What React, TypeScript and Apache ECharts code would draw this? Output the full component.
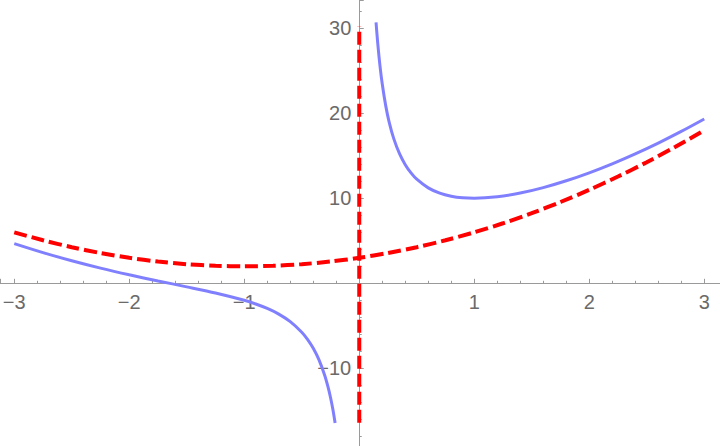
import React, { useEffect, useRef } from "react";
import * as echarts from "echarts";

// Blue curve, left branch (x < 0)
const blueLeftX = [-3, -2.75, -2.5, -2.25, -2, -1.75, -1.5, -1.25, -1, -0.9, -0.8, -0.7, -0.6, -0.5, -0.45, -0.4, -0.35, -0.3, -0.27, -0.25, -0.23, -0.21];
const blueLeftY = [4.667, 3.608, 2.65, 1.785, 1.0, 0.277, -0.417, -1.138, -2.0, -2.434, -2.96, -3.624, -4.507, -5.75, -6.586, -7.64, -9.006, -10.843, -12.282, -13.438, -14.798, -16.424];

// Blue curve, right branch (x > 0)
const blueRightX = [0.146, 0.16, 0.18, 0.2, 0.23, 0.26, 0.3, 0.35, 0.4, 0.45, 0.5, 0.6, 0.7, 0.8, 0.9, 1.0, 1.2, 1.4, 1.6, 1.8, 2.0, 2.2, 2.4, 2.6, 2.8, 3.0];
const blueRightY = [30.71, 28.346, 25.615, 23.44, 20.904, 18.972, 17.023, 15.251, 13.96, 12.991, 12.25, 11.227, 10.604, 10.24, 10.054, 10.0, 10.173, 10.617, 11.26, 12.062, 13.0, 14.058, 15.227, 16.498, 17.869, 19.333];

// Red dashed parabola
const redX = [-3, -2.75, -2.5, -2.25, -2, -1.75, -1.5, -1.25, -1, -0.75, -0.5, -0.25, 0, 0.25, 0.5, 0.75, 1, 1.25, 1.5, 1.75, 2, 2.25, 2.5, 2.75, 3];
const redY = [6, 5.0625, 4.25, 3.5625, 3, 2.5625, 2.25, 2.0625, 2, 2.0625, 2.25, 2.5625, 3, 3.5625, 4.25, 5.0625, 6, 7.0625, 8.25, 9.5625, 11, 12.5625, 14.25, 16.0625, 18];

// Red dashed vertical asymptote
const asymX = [0, 0];
const asymY = [-16.4, 30.2];

// Axis extents
const xRange = [-3.124, 3.137];
const yRange = [-19.14, 33.33];

const W = 720;
const H = 446;

const zip = (xs: number[], ys: number[]) => xs.map((x, i) => [x, ys[i]]);

const fmt = (v: number) => {
  if (v === 0 || Math.abs(v - Math.round(v)) > 1e-9) return "";
  return v < 0 ? "\u2212" + Math.abs(v) : String(v);
};

export default function App() {
  const ref = useRef<HTMLDivElement>(null);
  useEffect(() => {
    if (!ref.current) return;
    const chart = echarts.init(ref.current, undefined, { renderer: "svg" });
    const axisColor = "#9a9a9a";
    const labelStyle = {
      color: "#6a6a6a",
      fontSize: 20,
      fontFamily: "'Liberation Sans', Arial, sans-serif",
    };
    // place axes through the origin
    const xAxisOffset = -(H * (0 - yRange[0])) / (yRange[1] - yRange[0]);
    const yAxisOffset = -(W * (0 - xRange[0])) / (xRange[1] - xRange[0]);
    chart.setOption({
      animation: false,
      backgroundColor: "#ffffff",
      grid: { left: 0, right: 0, top: 0, bottom: 0, containLabel: false, outerBoundsMode: "none" },
      xAxis: {
        type: "value",
        position: "bottom",
        offset: xAxisOffset,
        min: xRange[0],
        max: xRange[1],
        splitLine: { show: false },
        axisLine: { show: true, onZero: false, lineStyle: { color: axisColor, width: 1 } },
        axisTick: { show: true, inside: true, length: 4.5, lineStyle: { color: axisColor } },
        minorTick: { show: true, splitNumber: 5, length: 2.5, lineStyle: { color: axisColor } },
        axisLabel: { ...labelStyle, margin: 9, formatter: fmt, showMinLabel: false, showMaxLabel: false },
      },
      yAxis: {
        type: "value",
        position: "left",
        offset: yAxisOffset,
        min: yRange[0],
        max: yRange[1],
        splitLine: { show: false },
        axisLine: { show: true, onZero: false, lineStyle: { color: axisColor, width: 1 } },
        axisTick: { show: true, inside: true, length: 4.5, lineStyle: { color: axisColor } },
        minorTick: { show: true, splitNumber: 5, length: 2.5, lineStyle: { color: axisColor } },
        axisLabel: { ...labelStyle, margin: 8, formatter: fmt, showMinLabel: false, showMaxLabel: false },
      },
      series: [
        {
          type: "line",
          data: zip(blueLeftX, blueLeftY),
          showSymbol: false,
          smooth: 0.3,
          lineStyle: { color: "#8080ff", width: 3 },
          z: 3,
        },
        {
          type: "line",
          data: zip(blueRightX, blueRightY),
          showSymbol: false,
          smooth: 0.3,
          lineStyle: { color: "#8080ff", width: 3 },
          z: 3,
        },
        {
          type: "line",
          data: zip(redX, redY),
          showSymbol: false,
          smooth: 0.3,
          lineStyle: { color: "#ff0000", width: 4, type: [13, 5] },
          z: 4,
        },
        {
          type: "line",
          data: zip(asymX, asymY),
          showSymbol: false,
          lineStyle: { color: "#ff0000", width: 4, type: [13, 5] },
          z: 4,
        },
      ],
    });
    return () => chart.dispose();
  }, []);
  return (
    <div
      ref={ref}
      style={{ position: "fixed", left: 0, top: 0, width: W, height: H, background: "#fff" }}
    />
  );
}
